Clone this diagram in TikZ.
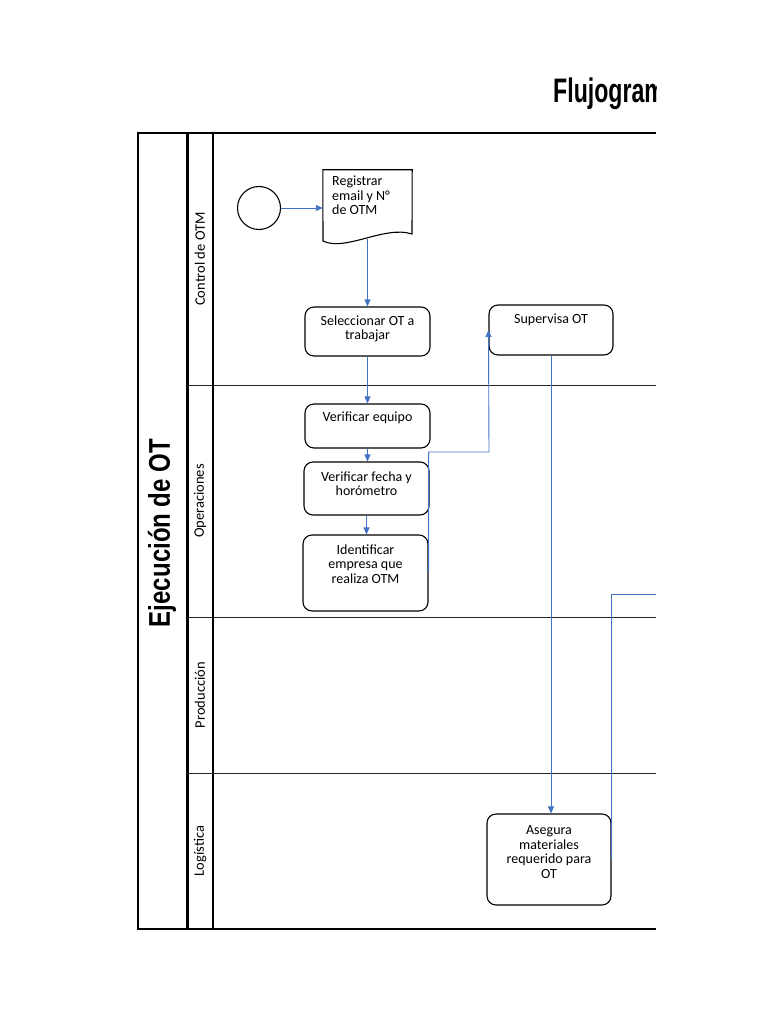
\documentclass[tikz,border=0pt]{standalone}
\usepackage{fontspec}
\setmainfont{Carlito}
\newfontfamily\arialf{Liberation Sans}
\usetikzlibrary{arrows.meta}
\definecolor{connblue}{HTML}{4472C4}
\begin{document}
\begin{tikzpicture}[x=1pt,y=-1pt,
  box/.style={draw, rounded corners=9pt, line width=1.1pt, inner sep=0pt},
  txt/.style={anchor=north, align=center, inner sep=0pt, font=\fontsize{14}{14.5}\selectfont},
  lanelbl/.style={rotate=90, inner sep=0pt, font=\fontsize{14.5}{16}\selectfont},
  arr/.style={draw=connblue, line width=0.9pt, -{Triangle[length=7pt,width=6pt]}},
  cline/.style={draw=connblue, line width=0.9pt},
  pool/.style={line width=1.4pt},
  sep/.style={line width=0.9pt, draw=black!85},
]
\useasboundingbox (0,0) rectangle (768,1024);

% title (cut at the right edge)
\begin{scope}
  \clip (0,0) rectangle (656,128);
  \node[anchor=base west, inner sep=0pt, font=\arialf\bfseries\fontsize{34}{40}\selectfont] (title) at (553,103) {\scalebox{0.68}[1]{Flujograma}};
\end{scope}

% pool frame
\draw[pool] (656,133) -- (138,133) -- (138,929) -- (656,929);
\draw[line width=3pt] (187,133) -- (187,929);
\draw[line width=1.4pt] (213,133) -- (213,929);
\draw[sep] (187,385) -- (656,385);
\draw[sep] (187,617) -- (656,617);
\draw[sep] (187,773) -- (656,773);

% pool title and lane labels
\node[rotate=90, inner sep=0pt, font=\arialf\bfseries\fontsize{30}{34}\selectfont] (pooltitle) at (162,533) {\scalebox{0.8}[1]{Ejecución de OT}};
\node[lanelbl] (l1) at (200,259) {Control de OTM};
\node[lanelbl] (l2) at (200,501) {Operaciones};
\node[lanelbl] (l3) at (200,695) {Producción};
\node[lanelbl] (l4) at (200,851) {Logística};

% start event
\node[draw, circle, line width=1.1pt, minimum size=43pt, inner sep=0pt] (start) at (259,208) {};

% document shape
\node[inner sep=0pt, minimum width=89pt, minimum height=76pt] (doc) at (367.5,208) {};
\draw[line width=1.1pt, fill=white] (doc.north west) -- (doc.north east) -- (412,234)
  .. controls (385,225) and (345,252) .. (323,241) -- cycle;
\node[txt, anchor=north west, align=left] (doctxt) at (332,176) {Registrar\\email y N°\\de OTM};
\coordinate (docb) at (367.5,239);

% tasks
\node[box, minimum width=125pt, minimum height=49pt] (sel) at (367.5,331.5) {};
\node[txt] (seltxt) at ([yshift=-9pt]sel.north) {Seleccionar OT a\\trabajar};

\node[box, minimum width=124pt, minimum height=50pt] (sup) at (551,330) {};
\node[txt] (suptxt) at ([yshift=-9pt]sup.north) {Supervisa OT};

\node[box, minimum width=125pt, minimum height=44pt] (veq) at (367.5,426) {};
\node[txt] (veqtxt) at ([yshift=-8pt]veq.north) {Verificar equipo};

\node[box, minimum width=125pt, minimum height=53pt] (vfe) at (366.5,488.5) {};
\node[txt] (vfetxt) at ([yshift=-10pt]vfe.north) {Verificar fecha y\\horómetro};

\node[box, minimum width=125pt, minimum height=76pt] (ide) at (365.5,573) {};
\node[txt] (idetxt) at ([yshift=-10pt]ide.north) {Identificar\\empresa que\\realiza OTM};

\node[box, minimum width=124pt, minimum height=91pt] (ase) at (549,859.5) {};
\node[txt] (asetxt) at ([yshift=-12pt]ase.north) {Asegura\\materiales\\requerido para\\OT};

% connectors
\coordinate (k1) at (489,452);
\coordinate (out) at (656,594);
\draw[arr] (start) -- (doc.west);
\draw[arr] (docb) -- (sel.north);
\draw[arr] (sel.south) -- (veq.north);
\draw[arr] (veq.south) -- (veq.south |- vfe.north);
\draw[arr] (vfe.south) -- (vfe.south |- ide.north);
\draw[arr] (ide.east) |- (k1) -- (sup.west);
\draw[arr] (sup.south) -- (sup.south |- ase.north);
\draw[cline] (ase.east) |- (out);
\end{tikzpicture}
\end{document}
